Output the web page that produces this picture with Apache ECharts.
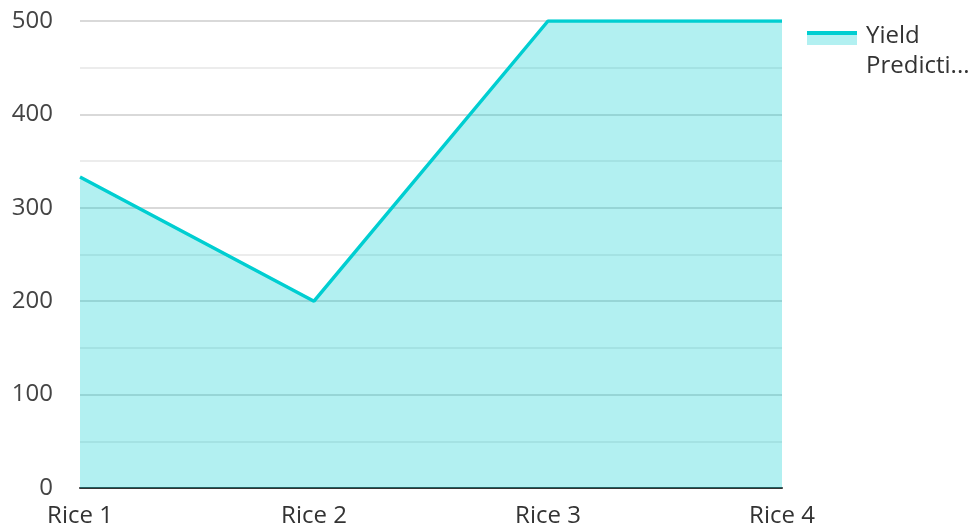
<!DOCTYPE html>
<html>
<head>
<meta charset="utf-8">
<script src="https://cdn.jsdelivr.net/npm/echarts@6/dist/echarts.min.js"></script>
<style>
  html, body { margin: 0; padding: 0; background: #fff; }
  #chart { width: 976px; height: 529px; }
</style>
</head>
<body>
<div id="chart"></div>
<script>
// data
const categories = ['Rice 1', 'Rice 2', 'Rice 3', 'Rice 4']
const yieldValues = [333, 200, 500, 500]
const seriesName = 'Yield Prediction'

const lineColor = '#00ced1'
const font = "'Open Sans', 'Noto Sans', sans-serif"

// legend swatch: thick line on top of the light area, padded below so it sits by the first text line
const iconSvg = '<svg xmlns="http://www.w3.org/2000/svg" width="50" height="40">' +
  '<rect x="0" y="4" width="50" height="10" fill="#b2f0f1"/>' +
  '<rect x="0" y="0" width="50" height="4" fill="#00ced1"/></svg>'

const chart = echarts.init(document.getElementById('chart'))

chart.setOption({
  animation: false,
  grid: { left: 80, right: 194, top: 21, bottom: 41 },
  legend: {
    orient: 'vertical',
    left: 807,
    top: 21,
    padding: 0,
    itemWidth: 50,
    itemHeight: 40,
    itemGap: 10,
    icon: 'image://data:image/svg+xml;charset=utf-8,' + encodeURIComponent(iconSvg),
    formatter: name => 'Yield\nPredicti...',
    textStyle: {
      fontFamily: font,
      fontSize: 24,
      lineHeight: 30,
      color: '#333',
      padding: [0, 0, 0, 4]
    },
    data: [seriesName]
  },
  xAxis: {
    type: 'category',
    data: categories,
    boundaryGap: false,
    axisLine: { lineStyle: { color: '#333', width: 2 } },
    axisTick: { show: false },
    axisLabel: { fontFamily: font, fontSize: 24, color: '#333', margin: 16 }
  },
  yAxis: {
    type: 'value',
    min: 0,
    max: 500,
    interval: 100,
    axisLine: { show: false },
    axisTick: { show: false },
    axisLabel: { fontFamily: font, fontSize: 24, color: '#444', margin: 27 },
    splitLine: { lineStyle: { color: '#cccccc', width: 1.5 } },
    minorTick: { show: false, splitNumber: 2 },
    minorSplitLine: { show: true, lineStyle: { color: '#e6e6e6', width: 1.5 } }
  },
  series: [{
    name: seriesName,
    type: 'line',
    data: yieldValues,
    symbol: 'none',
    lineStyle: { color: lineColor, width: 3.5 },
    itemStyle: { color: lineColor },
    areaStyle: { color: lineColor, opacity: 0.3 }
  }]
})
</script>
</body>
</html>
